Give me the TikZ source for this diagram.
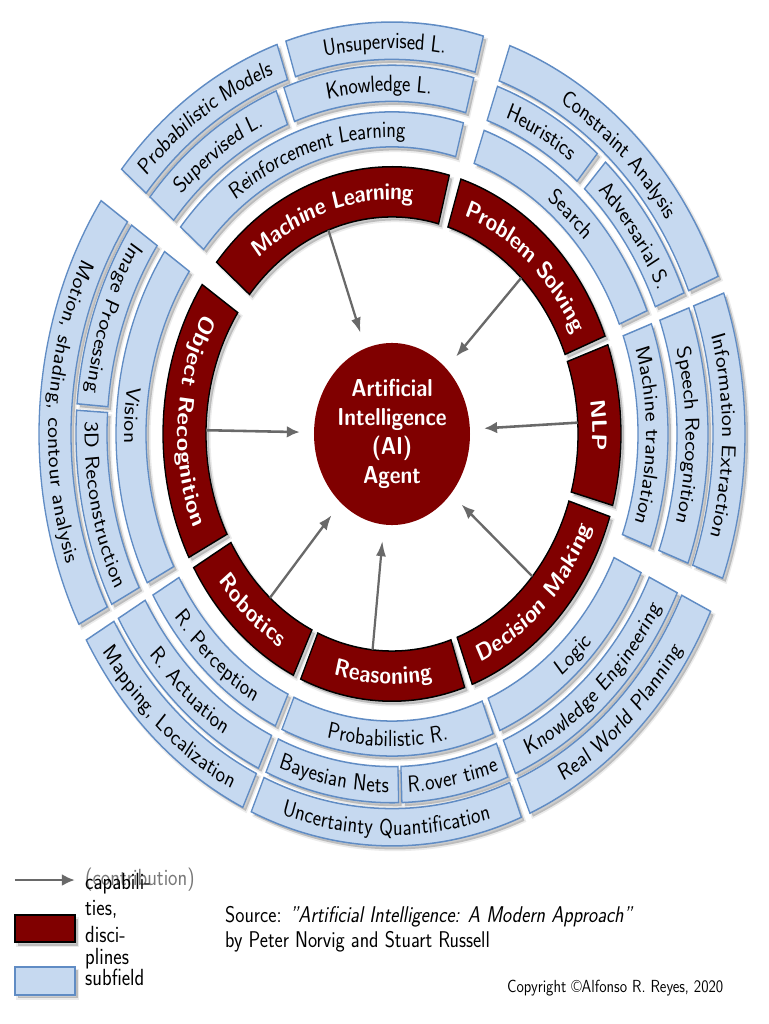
\documentclass[tikz,border=0pt]{standalone}
\usepackage{fontspec}
\usetikzlibrary{arrows.meta,decorations.text}
\definecolor{aired}{RGB}{128,0,0}
\definecolor{bfill}{RGB}{198,217,240}
\definecolor{bedge}{RGB}{96,140,196}
\definecolor{arrgray}{RGB}{105,105,105}
\newcommand\redfont{\sffamily\bfseries\fontsize{21}{25}\selectfont}
\newcommand\bluefont{\sffamily\fontsize{20}{24}\selectfont}
\newcommand\ringseg[5]{%
  \path[#1] (#2:#4) arc[start angle=#2, end angle=#3, radius=#4] -- (#3:#5) arc[start angle=#3, end angle=#2, radius=#5] -- cycle;}
\newcommand\arclabel[6]{%
  \path[decorate, decoration={text along path, text={|#1|#6}, text color=#2, text align=center, raise=-6.9pt}] (#3:#5) arc[start angle=#3, end angle=#4, radius=#5];}
\newcommand\redlist{75.5/140, 21.5/72.5, -15.5/19.5, -69.5/-18, -113.5/-71.5, -150/-115.5, 146/207.5}
\newcommand\bluelist{75/140/246/276, 22.5/70.5/246/276, -20.5/20/246/276, -67/-25.5/246/276, -113.5/-68.5/246/276, -150/-115/246/276, 145.5/207.5/246/276,
111.5/140/285/316, 75/110/285/316, 49.5/70.5/285/316, 22.5/47.5/285/316, -20.5/20/285/316, -67/-25.5/285/316, -113.5/-88.8/285/316, -88.2/-68.5/285/316, -150/-115/285/316, 145.5/175.3/285/316, 176.3/207.5/285/316,
109/140/321/353, 75/107.5/321/353, 22.5/70.5/321/353, -20.5/20/321/353, -67/-25.5/321/353, -113.5/-68.5/321/353, -150/-115/321/353, 145.5/207.5/321/353}
\tikzset{
  redseg/.style={fill=aired, draw=black, line width=1.3pt},
  blueseg/.style={fill=bfill, draw=bedge, line width=1.3pt},
  segshadow/.style={fill=black, opacity=0.2, draw=black, draw opacity=0.08, line width=3pt},
  contrib/.style={draw=arrgray, line width=2.2pt, -{Latex[length=13pt,width=10pt]}},
  legtext/.style={anchor=west, inner sep=0pt, font=\sffamily\fontsize{20}{24}\selectfont},
  srctext/.style={anchor=west, inner sep=0pt, font=\sffamily\fontsize{19.5}{23}\selectfont},
}
\begin{document}
\begin{tikzpicture}[x=1pt,y=1pt]
\fill[white] (-392,-590) rectangle (376,434);
\useasboundingbox (-392,-590) rectangle (376,434);
\begin{scope}[transform canvas={yscale=1.167}]
  % shadows
  \foreach \a/\b/\ri/\ro in \bluelist {\ringseg{segshadow, shift={(3,-3)}}{\a}{\b}{\ri}{\ro}}
  \foreach \a/\b in \redlist {\ringseg{segshadow, shift={(3,-3)}}{\a}{\b}{186}{229}}
  % segments
  \foreach \a/\b/\ri/\ro in \bluelist {\ringseg{blueseg}{\a}{\b}{\ri}{\ro}}
  \foreach \a/\b in \redlist {\ringseg{redseg}{\a}{\b}{186}{229}}
  % central node
  \node[circle, fill=aired, minimum size=156pt, inner sep=0pt, text=white, align=center,
        font=\sffamily\bfseries\fontsize{21}{25}\selectfont] (ai) at (0,0) {Artificial\\Intelligence\\(AI)\\Agent};
  % contribution arrows
  \coordinate (ml-in) at (110:186);
  \coordinate (ps-in) at (46:186);
  \coordinate (nlp-in) at (3:186);
  \coordinate (dm-in) at (-41:186);
  \coordinate (re-in) at (-96:186);
  \coordinate (ro-in) at (-131:186);
  \coordinate (or-in) at (179:186);
  \foreach \c in {ml-in, ps-in, nlp-in, dm-in, re-in, ro-in, or-in}
    {\draw[contrib, shorten >=14pt] (\c) -- (ai);}
  % red labels
  \arclabel{\redfont}{white}{140}{75.5}{207.5}{Machine Learning}
  \arclabel{\redfont}{white}{72.5}{21.5}{207.5}{Problem Solving}
  \arclabel{\redfont}{white}{19.5}{-15.5}{207.5}{NLP}
  \arclabel{\redfont}{white}{-69.5}{-18}{207.5}{Decision Making}
  \arclabel{\redfont}{white}{-113.5}{-71.5}{207.5}{Reasoning}
  \arclabel{\redfont}{white}{-150}{-115.5}{207.5}{Robotics}
  \arclabel{\redfont}{white}{146}{207.5}{207.5}{Object Recognition}
  % ring 1
  \arclabel{\bluefont}{black}{140}{75}{261}{Reinforcement Learning}
  \arclabel{\bluefont}{black}{70.5}{22.5}{261}{Search}
  \arclabel{\bluefont}{black}{20}{-20.5}{261}{Machine translation}
  \arclabel{\bluefont}{black}{-67}{-25.5}{261}{Logic}
  \arclabel{\bluefont}{black}{-113.5}{-68.5}{261}{Probabilistic R.}
  \arclabel{\bluefont}{black}{-150}{-115}{261}{R. Perception}
  \arclabel{\bluefont}{black}{145.5}{207.5}{261}{Vision}
  % ring 2
  \arclabel{\bluefont}{black}{140}{111.5}{300.5}{Supervised L.}
  \arclabel{\bluefont}{black}{110}{75}{300.5}{Knowledge L.}
  \arclabel{\bluefont}{black}{70.5}{49.5}{300.5}{Heuristics}
  \arclabel{\bluefont}{black}{47.5}{22.5}{300.5}{Adversarial S.}
  \arclabel{\bluefont}{black}{20}{-20.5}{300.5}{Speech Recognition}
  \arclabel{\bluefont}{black}{-67}{-25.5}{300.5}{Knowledge Engineering}
  \arclabel{\bluefont}{black}{-113.5}{-88.8}{300.5}{Bayesian Nets}
  \arclabel{\bluefont}{black}{-88.2}{-68.5}{300.5}{R.over time}
  \arclabel{\bluefont}{black}{-150}{-115}{300.5}{R. Actuation}
  \arclabel{\bluefont}{black}{145.5}{175.3}{300.5}{Image Processing}
  \arclabel{\bluefont}{black}{176.3}{207.5}{300.5}{3D Reconstruction}
  % ring 3
  \arclabel{\bluefont}{black}{140}{109}{337}{Probabilistic Models}
  \arclabel{\bluefont}{black}{107.5}{75}{337}{Unsupervised L.}
  \arclabel{\bluefont}{black}{70.5}{22.5}{337}{Constraint Analysis}
  \arclabel{\bluefont}{black}{20}{-20.5}{337}{Information Extraction}
  \arclabel{\bluefont}{black}{-67}{-25.5}{337}{Real World Planning}
  \arclabel{\bluefont}{black}{-113.5}{-68.5}{337}{Uncertainty Quantification}
  \arclabel{\bluefont}{black}{-150}{-115}{337}{Mapping, Localization}
  \arclabel{\bluefont}{black}{145.5}{207.5}{337}{Motion, shading, contour analysis}
  % legend
  \coordinate (lg-a) at (-377,-382.2);
  \coordinate (lg-b) at (-317,-382.2);
  \draw[contrib] (lg-a) -- (lg-b);
  \node[legtext, text={rgb,255:red,120;green,120;blue,120}] (lg-contrib) at (-307,-382.2) {(contribution)};
  \node[legtext] (lg-l1) at (-307,-385.6) {capabili-};
  \node[legtext] (lg-l2) at (-307,-407) {ties,};
  \node[legtext] (lg-l3) at (-307,-428.5) {disci-};
  \node[legtext] (lg-l4) at (-307,-449.9) {plines};
  \node[legtext] (lg-sub) at (-307,-465.3) {subfield};
  \path[segshadow] (-374,-415.2) rectangle (-314,-438.3);
  \node[redseg, minimum width=60pt, minimum height=23pt, inner sep=0pt] (lg-red) at (-347,-423.7) {};
  \path[segshadow] (-374,-459.7) rectangle (-314,-483.7);
  \node[blueseg, minimum width=60pt, minimum height=24pt, inner sep=0pt] (lg-blue) at (-347,-468.7) {};
  % source
  \node[srctext] (src1) at (-167,-413.9) {Source: \textit{"Artificial Intelligence: A Modern Approach"}};
  \node[srctext] (src2) at (-167,-435.3) {by Peter Norvig and Stuart Russell};
  \node[anchor=west, inner sep=0pt, font=\sffamily\fontsize{15}{18}\selectfont] (copy) at (115,-474.7) {Copyright \textcopyright Alfonso R. Reyes, 2020};
\end{scope}
\end{tikzpicture}
\end{document}
